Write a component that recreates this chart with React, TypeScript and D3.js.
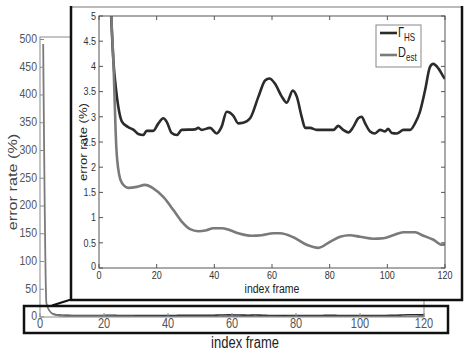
import React from "react";
import * as d3 from "d3";

// ---- data ----
const gammaIdx = [4, 5, 6, 7, 8, 10, 12, 13.6, 15.4, 16.5, 18.8, 20.6, 22.3, 23.5, 25.2, 27, 28.7, 33.3, 34.4, 35.6, 38.5, 40.8, 42.5, 44.3, 46.6, 48.3, 50, 52.4, 55.3, 57.6, 59.1, 61, 63.4, 65.1, 67.2, 68.6, 70.3, 71.5, 73.2, 75.5, 79, 81.3, 83, 84.7, 86.5, 88.2, 89.9, 91.1, 92.3, 94, 95.7, 97.5, 99.2, 100.3, 101.5, 103.3, 105.6, 107.9, 109.6, 111.3, 113.1, 114.8, 115.9, 117.7, 119.4, 120];
const gammaVal = [5.3, 4.1, 3.5, 3.1, 2.9, 2.8, 2.74, 2.66, 2.64, 2.72, 2.72, 2.87, 2.97, 2.9, 2.68, 2.64, 2.74, 2.75, 2.78, 2.74, 2.78, 2.67, 2.8, 3.1, 3.02, 2.87, 2.88, 2.97, 3.4, 3.72, 3.76, 3.66, 3.4, 3.28, 3.52, 3.4, 3.0, 2.78, 2.78, 2.74, 2.74, 2.74, 2.82, 2.74, 2.69, 2.8, 2.97, 3.0, 2.87, 2.71, 2.67, 2.74, 2.71, 2.76, 2.68, 2.67, 2.74, 2.74, 2.87, 3.1, 3.53, 3.99, 4.05, 3.96, 3.8, 3.75];
const destIdx = [1, 2, 3, 4, 5, 6, 7, 8, 10.2, 13.1, 16, 18.8, 22.3, 25.8, 28.7, 31.6, 34.4, 37.3, 39.6, 42.5, 45.4, 48.3, 53, 56.4, 60.5, 62.8, 67.4, 72, 76.1, 80.1, 83.6, 87, 90.5, 95.1, 98.6, 102, 105.6, 109.6, 112.5, 116, 118.9, 120];
const destVal = [492, 25, 11, 5.6, 4.1, 2.4, 1.85, 1.68, 1.59, 1.61, 1.65, 1.58, 1.41, 1.15, 0.92, 0.77, 0.73, 0.75, 0.79, 0.79, 0.75, 0.69, 0.64, 0.65, 0.69, 0.69, 0.61, 0.46, 0.4, 0.52, 0.62, 0.65, 0.62, 0.58, 0.59, 0.65, 0.71, 0.71, 0.64, 0.56, 0.46, 0.47];
const xTicks = [0, 20, 40, 60, 80, 100, 120];
const outerYTicks = [0, 50, 100, 150, 200, 250, 300, 350, 400, 450, 500];
const innerYTicks = [0, 0.5, 1, 1.5, 2, 2.5, 3, 3.5, 4, 4.5, 5];
const xLabel = "index frame";
const yLabel = "error rate (%)";

const SY = 1.25;
const FONT = "'Liberation Sans', Arial, sans-serif";

type TP = { x: number; y: number; size: number; anchor?: string; fill?: string; rot?: boolean; children: React.ReactNode };
function T({ x, y, size, anchor = "middle", fill = "#222", rot = false, children }: TP) {
  return (
    <text
      transform={`translate(${x},${y}) scale(1,${SY})${rot ? " rotate(-90)" : ""}`}
      textAnchor={anchor}
      dominantBaseline="central"
      fontSize={size}
      fontFamily={FONT}
      fill={fill}
    >
      {children}
    </text>
  );
}

export default function App() {
  const gamma = gammaIdx.map((d, i) => [d, gammaVal[i]] as [number, number]);
  const dest = destIdx.map((d, i) => [d, destVal[i]] as [number, number]);

  // outer chart
  const ox = d3.scaleLinear().domain([0, 120]).range([40, 424]);
  const oy = d3.scaleLinear().domain([0, 500]).range([317, 39.5]);
  const oLine = d3.line<[number, number]>().x((d) => ox(d[0])).y((d) => oy(d[1])).curve(d3.curveMonotoneX);

  // inner chart
  const ix = d3.scaleLinear().domain([0, 120]).range([99, 445]);
  const iy = d3.scaleLinear().domain([0, 5]).range([268, 16]);
  const iLine = d3.line<[number, number]>().x((d) => ix(d[0])).y((d) => iy(d[1])).curve(d3.curveMonotoneX);

  const oTop = 37;
  const gColor = "#2b2b2b";
  const dColor = "#7a7a7a";

  return (
    <svg width={474} height={356} style={{ position: "absolute", left: 0, top: 0, background: "#fff" }}>
      <defs>
        <clipPath id="oclip">
          <rect x={40} y={oTop} width={384} height={317 - oTop} />
        </clipPath>
        <clipPath id="iclip">
          <rect x={99} y={16} width={346} height={252} />
        </clipPath>
      </defs>
      <rect width={474} height={356} fill="#fff" />

      {/* outer chart */}
      <g>
        <path d={oLine(gamma) || ""} fill="none" stroke={gColor} strokeWidth={1.6} clipPath="url(#oclip)" />
        <path d={oLine(dest) || ""} fill="none" stroke={dColor} strokeWidth={1.8} clipPath="url(#oclip)" />
        <rect x={40} y={oTop} width={384} height={317 - oTop} fill="none" stroke="#8a8a8a" strokeWidth={1} />
        {outerYTicks.map((t) => (
          <g key={"oy" + t}>
            <line x1={40} x2={44} y1={oy(t)} y2={oy(t)} stroke="#8a8a8a" />
            <T x={37} y={oy(t) - 1} size={10.5} anchor="end" fill="#555">{t}</T>
          </g>
        ))}
        {xTicks.map((t) => (
          <g key={"ox" + t}>
            <line x1={ox(t)} x2={ox(t)} y1={317} y2={313} stroke="#8a8a8a" />
            <T x={ox(t)} y={324} size={11} fill="#555">{t}</T>
          </g>
        ))}
        <T x={13} y={182} size={13} fill="#444" rot>{yLabel}</T>
        <T x={245} y={342} size={13} fill="#222">{xLabel}</T>
      </g>

      {/* highlight rectangle and connector */}
      <rect x={24} y={306} width={424} height={27} fill="none" stroke="#111" strokeWidth={2.5} />
      <line x1={52} y1={305.5} x2={71} y2={299.5} stroke="#111" strokeWidth={2} />

      {/* inner panel */}
      <rect x={71} y={7} width={391} height={293} fill="#fff" stroke="none" />
      <line x1={71} y1={7} x2={462} y2={7} stroke="#777" strokeWidth={1.2} />
      <line x1={71} y1={6} x2={71} y2={301} stroke="#111" strokeWidth={2.5} />
      <line x1={462} y1={6} x2={462} y2={301} stroke="#111" strokeWidth={2.5} />
      <line x1={70} y1={300} x2={463} y2={300} stroke="#111" strokeWidth={2.5} />

      <g>
        <path d={iLine(gamma) || ""} fill="none" stroke={gColor} strokeWidth={2.6} clipPath="url(#iclip)" strokeLinejoin="round" />
        <path d={iLine(dest) || ""} fill="none" stroke={dColor} strokeWidth={2.6} clipPath="url(#iclip)" strokeLinejoin="round" />
        <rect x={99} y={16} width={346} height={252} fill="none" stroke="#555" strokeWidth={1} />
        {innerYTicks.map((t) => (
          <g key={"iy" + t}>
            <line x1={99} x2={103} y1={iy(t)} y2={iy(t)} stroke="#555" />
            <line x1={445} x2={441} y1={iy(t)} y2={iy(t)} stroke="#555" />
            <T x={96} y={iy(t) - (t === 0 ? 2 : 0)} size={9} anchor="end" fill="#333">{t}</T>
          </g>
        ))}
        {xTicks.map((t) => (
          <g key={"ix" + t}>
            <line x1={ix(t)} x2={ix(t)} y1={268} y2={264} stroke="#555" />
            <line x1={ix(t)} x2={ix(t)} y1={16} y2={20} stroke="#555" />
            <T x={ix(t)} y={275} size={9} fill="#333">{t}</T>
          </g>
        ))}
        <T x={272} y={289} size={10.5} fill="#222">{xLabel}</T>
        <T x={83} y={142} size={10.5} fill="#222" rot>{yLabel}</T>

        {/* legend */}
        <rect x={376} y={25} width={45} height={42} fill="#fff" stroke="#888" strokeWidth={1} />
        <line x1={380} x2={397} y1={33} y2={33} stroke={gColor} strokeWidth={2.6} />
        <line x1={380} x2={397} y1={55} y2={55} stroke={dColor} strokeWidth={2.6} />
        <text transform={`translate(398,33) scale(1,${SY})`} dominantBaseline="central" fontSize={11} fontFamily={FONT} fill="#222">
          Γ<tspan fontSize={8} dy={4}>HS</tspan>
        </text>
        <text transform={`translate(398,53) scale(1,${SY})`} dominantBaseline="central" fontSize={11} fontFamily={FONT} fill="#222">
          D<tspan fontSize={8} dy={4}>est</tspan>
        </text>
      </g>
    </svg>
  );
}
